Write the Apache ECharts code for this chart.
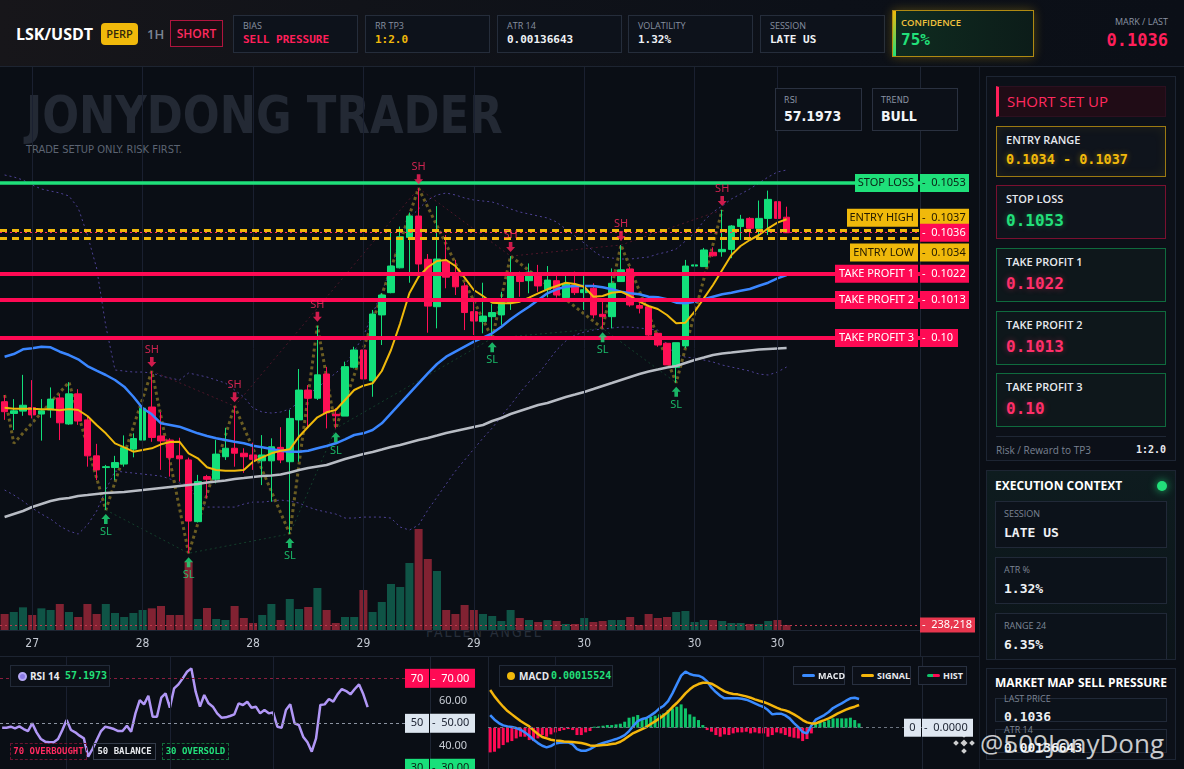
<!DOCTYPE html>
<html><head><meta charset="utf-8">
<script src="https://cdn.jsdelivr.net/npm/echarts@6.0.0/dist/echarts.min.js"></script>
<style>
*{box-sizing:border-box}
html,body{margin:0;padding:0;width:1184px;height:769px;overflow:hidden;background:#0a0e15;font-family:'Open Sans','Noto Sans',sans-serif;color:#fff}
.a{position:absolute}
.mono{font-family:'DejaVu Sans Mono','Liberation Mono',monospace;font-weight:700}
.cond{font-family:'DejaVu Sans Condensed','DejaVu Sans',sans-serif;font-stretch:condensed}
.stat{position:absolute;top:15px;height:38px;width:125px;border:1px solid #252d3b;background:#0d121b}
.stat .l{position:absolute;left:9px;top:4px;font-size:9px;line-height:12px;color:#8790a0}
.stat .v{position:absolute;left:9px;top:17px;font-size:11px;line-height:14px;color:#eef1f5}
.card{position:absolute;left:996px;width:170px;border:1px solid #1d2533;background:#0f141c}
.card .l{position:absolute;left:9px;top:6px;font-size:11px;line-height:14px;font-weight:600;color:#e6e9ee}
.card .v{position:absolute;left:9px;top:25px;font-size:16px;line-height:20px}
.sub{position:absolute;left:995px;width:172px;border:1px solid #212938;background:#0c121a}
.sub .l{position:absolute;left:8px;top:6px;font-size:9px;line-height:12px;color:#7c8595}
.sub .v{position:absolute;left:8px;top:23px;font-size:13px;line-height:16px;color:#eef1f5}
.leg{position:absolute;height:22px;border:1px solid #222a38;background:#0c1018;font-size:10px;line-height:20px;font-weight:700}
.tag{position:absolute;top:743px;height:17px;font-size:9px;line-height:15px;text-align:center}
.mleg{position:absolute;top:666px;height:19px;border:1px solid #283040;background:#0c1018;font-size:9px;line-height:17px;font-weight:700;color:#e8eaee}
.mleg i{position:absolute;left:8px;top:7px;width:13px;height:3px;border-radius:2px}
.mleg span{position:absolute;left:24px}
</style></head><body>

<!-- header -->
<div class="a" style="left:0;top:0;width:1184px;height:67px;background:linear-gradient(90deg,#17161a 0%,#111319 30%,#0c1018 70%,#0b0f17 100%);border-bottom:1px solid #1d2431"></div>
<div class="a" style="left:16px;top:22px;font-size:16px;line-height:24px;font-weight:700;color:#fff">LSK/USDT</div>
<div class="a" style="left:101px;top:23px;width:37px;height:22px;border-radius:4px;background:#f0b90b;color:#33270a;font-size:11px;line-height:22px;text-align:center;font-weight:600">PERP</div>
<div class="a" style="left:147px;top:26px;font-size:13px;line-height:16px;color:#7b8494;font-weight:600">1H</div>
<div class="a" style="left:170px;top:20px;width:53px;height:27px;border:1px solid #b0143e;background:#1a0d13;color:#ff2a5f;font-size:12px;line-height:25px;text-align:center;font-weight:600">SHORT</div>
<div class="stat" style="left:233px"><div class="l">BIAS</div><div class="v mono" style="color:#ff1f5a">SELL PRESSURE</div></div>
<div class="stat" style="left:365px"><div class="l">RR TP3</div><div class="v mono" style="color:#f0b90b">1:2.0</div></div>
<div class="stat" style="left:497px"><div class="l">ATR 14</div><div class="v mono">0.00136643</div></div>
<div class="stat" style="left:628px"><div class="l">VOLATILITY</div><div class="v mono">1.32%</div></div>
<div class="stat" style="left:760px"><div class="l">SESSION</div><div class="v mono">LATE US</div></div>
<div class="a" style="left:892px;top:10px;width:142px;height:47px;border:1px solid #b08a12;background:linear-gradient(90deg,#0f2c20,#0c1c19);box-shadow:0 0 10px rgba(240,185,11,0.3)">
  <div class="a" style="left:0;top:0;width:3px;height:45px;background:linear-gradient(180deg,#f0b90b,#22e07a)"></div>
  <div class="a" style="left:8px;top:6px;font-size:9.5px;line-height:12px;color:#f0c23d;font-weight:600">CONFIDENCE</div>
  <div class="a mono" style="left:8px;top:19px;font-size:16px;line-height:20px;color:#22e07a">75%</div>
</div>
<div class="a" style="right:16px;top:16px;font-size:9px;line-height:12px;color:#8a93a3;text-align:right">MARK / LAST</div>
<div class="a mono" style="right:16px;top:29px;font-size:17px;line-height:22px;color:#ff1f5a">0.1036</div>

<!-- chart background decorations -->
<div class="a cond" style="left:26px;top:89px;font-size:52px;line-height:52px;font-weight:700;color:#232934;white-space:nowrap" id="wm">JONYDONG TRADER</div>
<div class="a cond" style="left:26px;top:143px;font-size:11px;line-height:14px;color:#5c6472;white-space:nowrap">TRADE SETUP ONLY. RISK FIRST.</div>
<div class="a cond" style="left:426px;top:624px;font-size:14px;line-height:16px;color:#272e3a;letter-spacing:2px">FALLEN ANGEL</div>
<div class="a" style="left:0;top:656px;width:980px;height:1px;background:#1d2431"></div>
<div class="a" style="left:488px;top:656px;width:1px;height:113px;background:#1d2431"></div>
<div class="a" style="left:920px;top:630px;width:1px;height:26px;background:#1d2431"></div>
<div class="a" style="left:979px;top:67px;width:1px;height:702px;background:#161c28"></div>

<div id="chart" class="a" style="left:0;top:67px;width:980px;height:702px;z-index:2"></div>

<!-- chart overlays -->
<div class="a" style="left:775px;top:88px;width:87px;height:43px;border:1px solid #2a3140;background:#0c1018;z-index:3">
  <div class="a cond" style="left:8px;top:5px;font-size:9px;line-height:12px;color:#8a93a3">RSI</div>
  <div class="a cond" style="left:8px;top:18px;font-size:14px;line-height:18px;color:#f2f4f7;font-weight:600">57.1973</div>
</div>
<div class="a" style="left:872px;top:88px;width:86px;height:43px;border:1px solid #2a3140;background:#0c1018;z-index:3">
  <div class="a cond" style="left:8px;top:5px;font-size:9px;line-height:12px;color:#8a93a3">TREND</div>
  <div class="a cond" style="left:8px;top:18px;font-size:14px;line-height:18px;color:#f2f4f7;font-weight:600">BULL</div>
</div>
<div class="leg" style="left:10px;top:665px;width:100px;z-index:3">
  <div class="a" style="left:7px;top:6px;width:9px;height:9px;border-radius:50%;background:#8c7ae6;border:2px solid #b6a8f5"></div>
  <div class="a" style="left:19px;top:0;color:#e8eaee">RSI 14</div>
  <div class="a mono" style="left:54px;top:0;color:#22e07a;font-size:10px">57.1973</div>
</div>
<div class="tag mono" style="left:10px;width:77px;border:1px dashed #6a1230;color:#ff2a5f;z-index:3">70 OVERBOUGHT</div>
<div class="tag mono" style="left:93px;width:63px;border:1px solid #343c4a;color:#e8eaee;z-index:3">50 BALANCE</div>
<div class="tag mono" style="left:162px;width:67px;border:1px dashed #136b3a;color:#22e07a;z-index:3">30 OVERSOLD</div>
<div class="leg" style="left:499px;top:665px;width:114px;z-index:3">
  <div class="a" style="left:7px;top:6px;width:8px;height:8px;border-radius:50%;background:#f0b90b"></div>
  <div class="a" style="left:19px;top:0;color:#e8eaee">MACD</div>
  <div class="a mono" style="left:51px;top:0;color:#22e07a;font-size:10px">0.00015524</div>
</div>
<div class="mleg" style="left:793px;width:52px;z-index:3"><i style="background:#3a8bff"></i><span>MACD</span></div>
<div class="mleg" style="left:852px;width:59px;z-index:3"><i style="background:#f5b60c"></i><span>SIGNAL</span></div>
<div class="mleg" style="left:918px;width:49px;z-index:3"><i style="background:linear-gradient(90deg,#0fc46a 50%,#ff0a54 50%)"></i><span>HIST</span></div>

<!-- right panel -->
<div class="a" style="left:986px;top:76px;width:190px;height:385px;border:1px solid #1d2533;background:#0c1018"></div>
<div class="a" style="left:996px;top:86px;width:170px;height:31px;background:#200c16;border:1px solid #2d1020;border-left:3px solid #ff1f5a"></div>
<div class="a" style="left:1007px;top:91px;font-size:15px;line-height:21px;color:#ff2a5f">SHORT SET UP</div>
<div class="card" style="top:126px;height:51px;border-color:#9c7a12;box-shadow:inset 0 0 12px rgba(240,185,11,0.08)"><div class="l">ENTRY RANGE</div><div class="v mono" style="top:23px;font-size:13.5px;line-height:18px;color:#f0b90b;text-shadow:0 0 6px rgba(240,185,11,0.45)">0.1034 - 0.1037</div></div>
<div class="card" style="top:185px;height:54px;border-color:#7a1030"><div class="l">STOP LOSS</div><div class="v mono" style="color:#22e07a;text-shadow:0 0 6px rgba(34,224,122,0.4)">0.1053</div></div>
<div class="card" style="top:248px;height:54px;border-color:#0f6b3e;background:#0e171b"><div class="l">TAKE PROFIT 1</div><div class="v mono" style="color:#ff2f6a;text-shadow:0 0 6px rgba(255,47,106,0.4)">0.1022</div></div>
<div class="card" style="top:311px;height:54px;border-color:#0f6b3e;background:#0e171b"><div class="l">TAKE PROFIT 2</div><div class="v mono" style="color:#ff2f6a;text-shadow:0 0 6px rgba(255,47,106,0.4)">0.1013</div></div>
<div class="card" style="top:373px;height:54px;border-color:#0f6b3e;background:#0e171b"><div class="l">TAKE PROFIT 3</div><div class="v mono" style="color:#ff2f6a;text-shadow:0 0 6px rgba(255,47,106,0.4)">0.10</div></div>
<div class="a" style="left:996px;top:436px;width:170px;height:1px;background:#1f2735"></div>
<div class="a" style="left:996px;top:443px;font-size:10px;line-height:14px;color:#7a8292">Risk / Reward to TP3</div>
<div class="a mono" style="left:1100px;width:66px;top:443px;font-size:10px;line-height:14px;color:#e8eaee;text-align:right">1:2.0</div>

<div class="a" style="left:986px;top:470px;width:190px;height:190px;border:1px solid #1d2533;background:linear-gradient(180deg,#0e1c1f,#0c1419)"></div>
<div class="a" style="left:995px;top:478px;font-size:12px;line-height:16px;font-weight:700;color:#fff">EXECUTION CONTEXT</div>
<div class="a" style="left:1157px;top:481px;width:10px;height:10px;border-radius:50%;background:#22e07a;box-shadow:0 0 8px rgba(34,224,122,0.8)"></div>
<div class="sub" style="top:501px;height:47px"><div class="l">SESSION</div><div class="v mono">LATE US</div></div>
<div class="sub" style="top:557px;height:47px"><div class="l">ATR %</div><div class="v mono">1.32%</div></div>
<div class="sub" style="top:613px;height:46px;border-bottom:none"><div class="l">RANGE 24</div><div class="v mono">6.35%</div></div>

<div class="a" style="left:986px;top:668px;width:190px;height:92px;border:1px solid #1d2533;background:#0c1018"></div>
<div class="a" style="left:995px;top:675px;font-size:12px;line-height:16px;font-weight:700;color:#fff">MARKET MAP</div>
<div class="a" style="left:1067px;width:100px;top:675px;font-size:12px;line-height:16px;font-weight:700;color:#fff;text-align:right">SELL PRESSURE</div>
<div class="sub" style="top:698px;height:24px"><div class="l" style="top:-6px">LAST PRICE</div><div class="v mono" style="top:10px">0.1036</div></div>
<div class="sub" style="top:729px;height:24px"><div class="l" style="top:-6px">ATR 14</div><div class="v mono" style="top:10px">0.00136643</div></div>
<svg class="a" style="left:953px;top:732px" width="22" height="22" viewBox="0 0 22 22"><g fill="rgba(255,255,255,0.8)"><rect x="9" y="1" width="4" height="4" transform="rotate(45 11 3)"/><rect x="9" y="17" width="4" height="4" transform="rotate(45 11 19)"/><rect x="1" y="9" width="4" height="4" transform="rotate(45 3 11)"/><rect x="17" y="9" width="4" height="4" transform="rotate(45 19 11)"/><rect x="8.5" y="8.5" width="5" height="5" transform="rotate(45 11 11)"/></g></svg>
<div class="a" style="left:980px;top:725px;font-size:26px;line-height:36px;color:rgba(255,255,255,0.78);white-space:nowrap">@509JonyDong</div>

<script>
// ---------------- DATA ----------------
// hourly candles: [open, close, low, high]
const candles = [
[0.09782,0.09748,0.09720,0.09805],[0.09742,0.09751,0.09685,0.09791],[0.09750,0.09770,0.09734,0.09874],[0.09762,0.09737,0.09725,0.09856],
[0.09740,0.09751,0.09649,0.09791],[0.09754,0.09791,0.09727,0.09831],[0.09795,0.09710,0.09651,0.09809],[0.09706,0.09809,0.09703,0.09849],
[0.09809,0.09716,0.09703,0.09825],[0.09720,0.09597,0.09560,0.09733],[0.09597,0.09549,0.09514,0.09638],[0.09557,0.09560,0.09412,0.09566],
[0.09557,0.09574,0.09514,0.09597],[0.09569,0.09625,0.09560,0.09667],[0.09620,0.09656,0.09592,0.09674],[0.09651,0.09760,0.09575,0.09782],
[0.09764,0.09660,0.09645,0.09887],[0.09665,0.09648,0.09549,0.09747],[0.09651,0.09591,0.09526,0.09657],[0.09597,0.09587,0.09509,0.09659],
[0.09583,0.09374,0.09264,0.09591],[0.09372,0.09509,0.09369,0.09532],[0.09526,0.09517,0.09452,0.09532],[0.09517,0.09603,0.09503,0.09651],
[0.09594,0.09623,0.09583,0.09693],[0.09623,0.09606,0.09560,0.09767],[0.09606,0.09594,0.09539,0.09623],[0.09600,0.09585,0.09549,0.09642],
[0.09580,0.09600,0.09497,0.09668],[0.09580,0.09628,0.09440,0.09657],[0.09626,0.09583,0.09572,0.09695],[0.09577,0.09725,0.09330,0.09754],
[0.09720,0.09822,0.09577,0.09894],[0.09822,0.09794,0.09691,0.09839],[0.09794,0.09874,0.09788,0.10042],[0.09877,0.09744,0.09691,0.09901],
[0.09739,0.09734,0.09691,0.09760],[0.09733,0.09902,0.09733,0.09919],[0.09900,0.09959,0.09896,0.09970],[0.09959,0.09860,0.09737,0.09965],
[0.09854,0.10082,0.09799,0.10096],[0.10079,0.10147,0.09976,0.10153],[0.10155,0.10246,0.10153,0.10369],[0.10240,0.10346,0.10238,0.10381],
[0.10344,0.10417,0.10189,0.10429],[0.10417,0.10253,0.10215,0.10512],[0.10269,0.10109,0.10018,0.10287],[0.10107,0.10270,0.10033,0.10451],
[0.10261,0.10208,0.10170,0.10352],[0.10218,0.10175,0.10147,0.10267],[0.10178,0.10087,0.10027,0.10189],[0.10090,0.10058,0.10010,0.10136],
[0.10056,0.10075,0.10016,0.10189],[0.10073,0.10087,0.09999,0.10116],[0.10079,0.10121,0.10045,0.10158],[0.10121,0.10213,0.10096,0.10280],
[0.10221,0.10193,0.10141,0.10227],[0.10196,0.10225,0.10153,0.10255],[0.10215,0.10178,0.10158,0.10250],[0.10165,0.10198,0.10139,0.10246],
[0.10196,0.10147,0.10138,0.10215],[0.10138,0.10185,0.10136,0.10221],[0.10181,0.10155,0.10147,0.10227],[0.10155,0.10165,0.10096,0.10223],
[0.10170,0.10079,0.10067,0.10187],[0.10081,0.10073,0.10033,0.10132],[0.10073,0.10187,0.10033,0.10238],[0.10193,0.10233,0.10193,0.10318],
[0.10236,0.10113,0.10107,0.10244],[0.10111,0.10102,0.10084,0.10119],[0.10107,0.10010,0.09993,0.10113],[0.10016,0.09976,0.09970,0.10018],
[0.09982,0.09908,0.09908,0.09984],[0.09900,0.09984,0.09847,0.09984],[0.09973,0.10246,0.09965,0.10267],[0.10246,0.10250,0.10233,0.10267],
[0.10244,0.10301,0.10244,0.10308],[0.10293,0.10281,0.10278,0.10310],[0.10295,0.10303,0.10278,0.10438],[0.10303,0.10383,0.10273,0.10386],
[0.10381,0.10406,0.10335,0.10421],[0.10409,0.10375,0.10338,0.10413],[0.10375,0.10409,0.10341,0.10470],[0.10409,0.10474,0.10352,0.10504],
[0.10466,0.10409,0.10344,0.10495],[0.10413,0.10360,0.10360,0.10449]
];
const volume = [762000,858000,1080000,715000,1032000,953000,1239000,858000,619000,1239000,
762000,1239000,810000,619000,810000,953000,1032000,1143000,715000,715000,
3256000,524000,1048000,524000,476000,1143000,572000,333000,715000,1239000,
476000,1477000,1000000,1096000,2001000,953000,333000,619000,619000,1906000,
858000,1334000,2192000,2049000,3192000,4812000,3383000,2811000,953000,762000,
1191000,953000,762000,667000,429000,953000,572000,476000,381000,476000,
429000,286000,286000,572000,381000,429000,476000,476000,619000,238000,
762000,572000,619000,858000,905000,381000,476000,476000,429000,333000,
333000,286000,286000,429000,476000,238218];
const maFast = [0.097616,0.097582,0.097582,0.097582,0.097561,0.097561,0.097527,0.097572,0.097538,0.097333,
0.097025,0.096741,0.096399,0.096262,0.096112,0.096170,0.096228,0.096365,0.096443,0.096454,
0.096057,0.095886,0.095578,0.095486,0.095462,0.095462,0.095486,0.095770,0.095920,0.096057,
0.096146,0.096194,0.096625,0.096967,0.097288,0.097459,0.097538,0.097880,0.098222,0.098369,
0.098451,0.098871,0.099590,0.100502,0.101528,0.102096,0.102418,0.102633,0.102667,0.102462,
0.102062,0.101641,0.101436,0.101207,0.101186,0.101186,0.101241,0.101378,0.101528,0.101665,
0.101778,0.101891,0.101846,0.101754,0.101412,0.101436,0.101549,0.101583,0.101436,0.101241,
0.101094,0.100991,0.100786,0.100502,0.100523,0.100899,0.101357,0.101812,0.102325,0.102838,
0.103146,0.103351,0.103522,0.103751,0.103943,0.104059];
const maMid = [0.099360,0.099452,0.099613,0.099647,0.099702,0.099682,0.099531,0.099418,0.099271,0.099042,
0.098882,0.098735,0.098564,0.098334,0.097992,0.097596,0.097391,0.097083,0.097025,0.096967,
0.096854,0.096741,0.096649,0.096570,0.096512,0.096454,0.096399,0.096317,0.096262,0.096204,
0.096146,0.096112,0.096112,0.096146,0.096228,0.096307,0.096399,0.096536,0.096683,0.096741,
0.096854,0.097083,0.097425,0.097767,0.098109,0.098451,0.098793,0.099111,0.099360,0.099531,
0.099702,0.099873,0.100010,0.100161,0.100386,0.100640,0.100865,0.101071,0.101300,0.101528,
0.101665,0.101754,0.101778,0.101778,0.101778,0.101734,0.101665,0.101583,0.101528,0.101494,
0.101412,0.101392,0.101323,0.101207,0.101186,0.101241,0.101323,0.101412,0.101494,0.101549,
0.101617,0.101675,0.101788,0.101891,0.102041,0.102154];
const maSlow = [0.093879,0.093982,0.094084,0.094221,0.094324,0.094426,0.094495,0.094529,0.094597,0.094631,
0.094666,0.094700,0.094717,0.094734,0.094768,0.094802,0.094837,0.094871,0.094905,0.094939,
0.094973,0.095007,0.095059,0.095093,0.095127,0.095178,0.095212,0.095247,0.095281,0.095298,
0.095332,0.095400,0.095486,0.095554,0.095606,0.095657,0.095760,0.095862,0.095948,0.096033,
0.096102,0.096187,0.096273,0.096341,0.096427,0.096512,0.096581,0.096666,0.096752,0.096820,
0.096888,0.096957,0.097025,0.097162,0.097264,0.097401,0.097504,0.097606,0.097709,0.097777,
0.097880,0.097983,0.098068,0.098154,0.098256,0.098359,0.098461,0.098564,0.098667,0.098769,
0.098855,0.098923,0.098992,0.099043,0.099145,0.099248,0.099333,0.099419,0.099470,0.099504,
0.099539,0.099573,0.099607,0.099624,0.099641,0.099658];
const bandUpper = [0.105574,0.105505,0.105403,0.105232,0.105095,0.105026,0.104958,0.104855,0.104445,0.103522,
0.102393,0.100409,0.098905,0.098870,0.098836,0.098836,0.098802,0.098699,0.098631,0.098563,
0.098802,0.098734,0.098665,0.098563,0.098460,0.098221,0.097981,0.097605,0.097468,0.097434,
0.097468,0.097571,0.097810,0.098084,0.098289,0.098563,0.098802,0.099076,0.099554,0.100067,
0.100820,0.101572,0.102393,0.103351,0.104103,0.104411,0.104719,0.104890,0.104958,0.104890,
0.104787,0.104719,0.104684,0.104650,0.104548,0.104411,0.104308,0.104240,0.104171,0.104103,
0.103966,0.103727,0.103487,0.103248,0.102974,0.102769,0.102735,0.102701,0.102701,0.102735,
0.102769,0.102872,0.102940,0.103043,0.103316,0.103590,0.104000,0.104308,0.104513,0.104753,
0.104924,0.105095,0.105300,0.105505,0.105676,0.105745];
const bandLower = [0.094801,0.094630,0.094424,0.094185,0.093980,0.093809,0.093569,0.093398,0.093296,0.093604,
0.094082,0.094801,0.095450,0.095416,0.095382,0.095348,0.095314,0.095279,0.095177,0.095040,
0.094972,0.094459,0.094219,0.094219,0.094219,0.094219,0.094322,0.094390,0.094390,0.094424,
0.094459,0.094424,0.094356,0.094219,0.094117,0.094048,0.093980,0.093843,0.093843,0.093877,
0.093877,0.093877,0.093843,0.093535,0.093433,0.093604,0.094117,0.094561,0.095006,0.095450,
0.095827,0.096203,0.096579,0.096921,0.097331,0.097708,0.098118,0.098494,0.098768,0.099178,
0.099589,0.099896,0.100102,0.100204,0.100273,0.100307,0.100341,0.100375,0.100375,0.100341,
0.100307,0.100273,0.099759,0.099418,0.099349,0.099315,0.099247,0.099178,0.099076,0.099007,
0.098939,0.098870,0.098768,0.098734,0.098836,0.099007];
const zigzagIdx   = [0,1,7,11,16,20,25,31,34,36,45,53,55,65,67,73,78];
const zigzagPrice = [0.09805,0.09640,0.09849,0.09412,0.09887,0.09264,0.09767,0.09330,0.10042,0.09691,0.10512,0.09999,0.10280,0.10033,0.10318,0.09847,0.10438];
const swingHighIdx = [16,25,34,45,55,67,78];
const swingLowIdx  = [11,20,31,36,53,65,73];
const shLinkIdx = [16,25,45,55,67,78];
const slLinkIdx = [11,20,31,36,53,65,73];
const levelNames  = ['STOP LOSS','ENTRY HIGH','','ENTRY LOW','TAKE PROFIT 1','TAKE PROFIT 2','TAKE PROFIT 3'];
const levelPrices = [0.1053,0.1037,0.1036,0.1034,0.1022,0.1013,0.10];
const levelLabels = ['0.1053','0.1037','0.1036','0.1034','0.1022','0.1013','0.10'];
const rsi = [48.07,48.07,48.52,47.78,48.67,47.48,46.59,50.00,46.00,43.04,
41.85,41.56,41.56,43.04,47.04,51.48,47.04,46.00,44.52,43.33,
35.19,38.59,42.59,46.59,48.52,48.07,47.48,46.59,46.59,48.96,
46.30,54.44,60.37,58.44,62.30,52.96,52.96,61.41,63.33,56.96,
65.56,67.33,70.00,72.96,74.44,64.07,57.41,62.59,58.89,57.41,
54.44,52.52,52.67,53.26,54.00,58.89,58.15,59.63,56.96,57.41,
54.44,55.93,54.44,54.89,48.52,48.07,55.93,58.44,50.00,49.26,
44.07,41.56,37.41,43.33,58.15,58.44,60.81,59.63,62.89,65.26,
64.37,62.89,65.26,67.33,62.89,57.1973];
const rsiLevels = [70,60,50,40,30];
// MACD values in millionths (x 1e-6)
const macdMicro = [68.5,43.2,25.2,12.6,7.2,3.6,-1.8,-10.8,-25.2,-43.2,
-64.9,-82.9,-97.3,-106.3,-99.1,-84.7,-81.1,-79.3,-79.3,-90.1,
-115.3,-124.3,-124.3,-115.3,-102.7,-90.1,-82.9,-75.7,-68.5,-61.3,
-52.3,-39.6,-18.0,9.0,36.0,46.8,52.3,66.7,82.9,104.5,
118.9,144.1,185.6,234.2,281.1,302.7,290.1,282.9,281.1,270.3,
250.5,216.2,192.8,173.0,158.6,158.6,158.6,158.6,156.8,151.4,
142.3,131.5,120.7,111.7,95.5,72.1,75.7,75.7,66.7,50.5,
25.2,3.6,-23.4,-30.6,10.8,43.2,55.9,68.5,84.7,106.3,
118.9,131.5,145.9,158.6,162.2,155.24];
const signalMicro = [203.6,169.4,140.5,113.5,90.1,72.1,54.1,36.0,21.6,7.2,
-14.4,-34.2,-50.5,-57.7,-64.9,-68.5,-70.3,-73.9,-75.7,-77.5,
-79.3,-82.9,-88.3,-95.5,-97.3,-95.5,-93.7,-91.9,-88.3,-84.7,
-75.7,-61.3,-45.0,-28.8,-18.0,-7.2,3.6,19.8,34.2,50.5,
66.7,86.5,111.7,133.3,158.6,185.6,207.2,225.2,236.0,243.2,
243.2,237.8,225.2,210.8,196.4,187.4,182.0,180.2,174.8,169.4,
162.2,153.2,145.9,138.7,129.7,118.9,108.1,99.1,93.7,84.7,
72.1,57.7,41.4,28.8,23.4,23.4,32.4,41.4,50.5,63.1,
75.7,86.5,97.3,106.3,113.5,122.5];
const histMicro = [-133.3,-129.7,-111.7,-93.7,-79.3,-72.1,-57.7,-48.6,-48.6,-66.7,
-72.1,-57.7,-39.6,-48.6,-36.0,-25.2,-18.0,-12.6,-7.2,-12.6,
-39.6,-39.6,-25.2,-18.0,5.4,7.2,10.8,14.4,14.4,18.0,
21.6,32.4,54.1,59.5,68.5,50.5,50.5,59.5,64.9,72.1,
77.5,95.5,104.5,113.5,126.1,104.5,72.1,59.5,41.4,14.4,
-12.6,-21.6,-39.6,-48.6,-36.0,-39.6,-30.6,-25.2,-25.2,-21.6,
-30.6,-25.2,-30.6,-30.6,-48.6,-39.6,-25.2,-30.6,-39.6,-48.6,
-54.1,-57.7,-72.1,-61.3,-30.6,23.4,32.4,32.4,41.4,50.5,
50.5,50.5,50.5,54.1,41.4,23.4];
const xTickIndex  = [3,15,27,39,51,63,75,84];
const xTickLabels = ['27','28','28','29','29','30','30','30'];
const subGridIndex = [15,39,63];
const SLOTS = 100; // 86 candles + empty space to the right

// ---------------- BUILD ----------------
const categories = [];
for (let i = 0; i < SLOTS; i++) categories.push(String(i));
const tickLabelAt = {};
xTickIndex.forEach((k, j) => tickLabelAt[k] = xTickLabels[j]);
const MICRO = 1e-6;
const UP = '#12e07a', DN = '#ff0f55';
const VOL_UP = '#0f5446', VOL_DN = '#812232';
const GRIDC = '#1a2030';
const TAGFONT = '11px "Noto Sans","Open Sans",sans-serif';
const levelStyle = [
  {line:{color:'#1fe07a',width:3.5,type:'solid'}, bg:'#1fe07a', fg:'#0b2015', nameX:855, valW:49, dy:0},
  {line:{color:'#f0b90b',width:3,type:[7,5]}, bg:'#f0b90b', fg:'#231a00', nameX:847, valW:49, dy:-12},
  {line:{color:'#ff2a6a',width:1,type:[2,3]}, bg:'#ff0a54', fg:'#ffffff', nameX:null, valW:49, dy:0},
  {line:{color:'#f0b90b',width:3,type:[7,5]}, bg:'#f0b90b', fg:'#231a00', nameX:850, valW:49, dy:14},
  {line:{color:'#ff0a54',width:4,type:'solid'}, bg:'#ff0a54', fg:'#ffffff', nameX:835, valW:49, dy:0},
  {line:{color:'#ff0a54',width:4,type:'solid'}, bg:'#ff0a54', fg:'#ffffff', nameX:835, valW:49, dy:0},
  {line:{color:'#ff0a54',width:4,type:'solid'}, bg:'#ff0a54', fg:'#ffffff', nameX:835, valW:38, dy:0}
];
const ARROW_DN = 'path://M3,0L7,0L7,6L10,6L5,12L0,6L3,6Z';
const ARROW_UP = 'path://M5,0L10,6L7,6L7,12L3,12L3,6L0,6Z';

const chart = echarts.init(document.getElementById('chart'));
const vLines = (idx) => ({silent:true, symbol:'none', label:{show:false}, lineStyle:{color:GRIDC,width:1,type:'solid'},
  data: idx.map(i => ({xAxis: categories[i]}))});

const option = {
  animation:false,
  backgroundColor:'transparent',
  grid:[
    {left:0, top:0, width:920, height:563},
    {left:0, top:453, width:920, height:110},
    {left:0, top:590, width:430, height:112},
    {left:488, top:590, width:434, height:112}
  ],
  xAxis:[
    {type:'category', gridIndex:0, data:categories, boundaryGap:true,
     axisLine:{show:true, lineStyle:{color:'#1e2533'}}, axisTick:{show:false},
     axisLabel:{show:true, interval:(i)=>tickLabelAt[i]!==undefined, formatter:(v)=>tickLabelAt[Number(v)]||'',
       color:'#c5cad3', fontSize:12, margin:8, fontFamily:'"DejaVu Sans Condensed","DejaVu Sans",sans-serif'},
     splitLine:{show:false}},
    {type:'category', gridIndex:1, data:categories, show:false},
    {type:'category', gridIndex:2, data:categories, show:false},
    {type:'category', gridIndex:3, data:categories, show:false}
  ],
  yAxis:[
    {type:'value', gridIndex:0, min:0.0900153, max:0.1092665, position:'right',
     axisLine:{show:true, lineStyle:{color:'#1e2533'}}, axisTick:{show:false}, axisLabel:{show:false}, splitLine:{show:false}},
    {type:'value', gridIndex:1, min:0, max:5240000, show:false},
    {type:'value', gridIndex:2, min:29.7, max:79.5, position:'right',
     axisLine:{show:true, lineStyle:{color:'#1e2533'}}, axisTick:{show:false}, axisLabel:{show:false}, splitLine:{show:false}},
    {type:'value', gridIndex:3, min:-0.000223, max:0.000382, position:'right',
     axisLine:{show:true, lineStyle:{color:'#1e2533'}}, axisTick:{show:false}, axisLabel:{show:false}, splitLine:{show:false}}
  ],
  series:[
    {type:'line', xAxisIndex:0, yAxisIndex:0, data:[], z:0, silent:true, markLine:vLines(xTickIndex)},
    {type:'bar', xAxisIndex:1, yAxisIndex:1, barWidth:8, z:1, silent:true,
     data: volume.map((v,i)=>({value:v, itemStyle:{color: candles[i][1] >= candles[i][0] ? VOL_UP : VOL_DN}})),
     markLine:{silent:true, symbol:'none', precision:0, label:{show:false}, lineStyle:{color:'#c23a4e', width:1, type:[2,3]},
       data:[{yAxis: volume[volume.length-1]}]}},
    {type:'line', xAxisIndex:0, yAxisIndex:0, data:bandUpper, symbol:'none', z:2, silent:true,
     lineStyle:{color:'#4e4296', width:1, type:[2,3]}},
    {type:'line', xAxisIndex:0, yAxisIndex:0, data:bandLower, symbol:'none', z:2, silent:true,
     lineStyle:{color:'#4e4296', width:1, type:[2,3]}},
    {type:'line', xAxisIndex:0, yAxisIndex:0, data:shLinkIdx.map(i=>[categories[i], candles[i][3]]), symbol:'none', z:2, silent:true,
     lineStyle:{color:'#4d1729', width:1, type:[2,3]}},
    {type:'line', xAxisIndex:0, yAxisIndex:0, data:slLinkIdx.map(i=>[categories[i], candles[i][2]]), symbol:'none', z:2, silent:true,
     lineStyle:{color:'#143f2c', width:1, type:[2,3]}},
    {type:'line', xAxisIndex:0, yAxisIndex:0, data:zigzagIdx.map((i,k)=>[categories[i], zigzagPrice[k]]), symbol:'none', z:2, silent:true,
     lineStyle:{color:'#6a5c22', width:3, type:[3,3]}},
    {type:'line', xAxisIndex:0, yAxisIndex:0, data:[], z:2, silent:true,
     markLine:{silent:true, symbol:'none', precision:6, label:{show:false},
       data: levelPrices.map((p,k)=>({yAxis:p, lineStyle:levelStyle[k].line}))}},
    {type:'candlestick', xAxisIndex:0, yAxisIndex:0, data:candles, barWidth:7, z:3, silent:true,
     itemStyle:{color:UP, color0:DN, borderColor:UP, borderColor0:DN, borderWidth:1}},
    {type:'line', xAxisIndex:0, yAxisIndex:0, data:maSlow, symbol:'none', z:4, silent:true, lineStyle:{color:'#b8bcc4', width:2.5}},
    {type:'line', xAxisIndex:0, yAxisIndex:0, data:maMid, symbol:'none', z:4, silent:true, lineStyle:{color:'#3a86ff', width:2.5}},
    {type:'line', xAxisIndex:0, yAxisIndex:0, data:maFast, symbol:'none', z:4, silent:true, lineStyle:{color:'#f0b90b', width:2}},
    {type:'scatter', xAxisIndex:0, yAxisIndex:0, z:5, silent:true, symbol:ARROW_DN, symbolSize:[9,10], symbolOffset:[0,-9],
     itemStyle:{color:'#ff1f5a'}, data: swingHighIdx.map(i=>[categories[i], candles[i][3]])},
    {type:'scatter', xAxisIndex:0, yAxisIndex:0, z:5, silent:true, symbol:'rect', symbolSize:1, itemStyle:{color:'rgba(0,0,0,0)'},
     label:{show:true, position:'inside', offset:[0,-21], formatter:'SH', color:'#ff2a5f', fontSize:11, fontFamily:'"Noto Sans",sans-serif'},
     data: swingHighIdx.map(i=>[categories[i], candles[i][3]])},
    {type:'scatter', xAxisIndex:0, yAxisIndex:0, z:5, silent:true, symbol:ARROW_UP, symbolSize:[9,10], symbolOffset:[0,9],
     itemStyle:{color:'#1ee07a'}, data: swingLowIdx.map(i=>[categories[i], candles[i][2]])},
    {type:'scatter', xAxisIndex:0, yAxisIndex:0, z:5, silent:true, symbol:'rect', symbolSize:1, itemStyle:{color:'rgba(0,0,0,0)'},
     label:{show:true, position:'inside', offset:[0,22], formatter:'SL', color:'#1ee07a', fontSize:11, fontFamily:'"Noto Sans",sans-serif'},
     data: swingLowIdx.map(i=>[categories[i], candles[i][2]])},
    // RSI
    {type:'line', xAxisIndex:2, yAxisIndex:2, data:[], z:0, silent:true, markLine:vLines(subGridIndex)},
    {type:'line', xAxisIndex:2, yAxisIndex:2, data:[], z:1, silent:true,
     markLine:{silent:true, symbol:'none', precision:2, label:{show:false},
       data:[{yAxis:rsiLevels[0], lineStyle:{color:'#8a1d3e', width:1, type:[3,3]}},
             {yAxis:rsiLevels[2], lineStyle:{color:'#8b93a1', width:1, type:[3,3]}}]}},
    {type:'line', xAxisIndex:2, yAxisIndex:2, data:rsi, symbol:'none', z:3, silent:true, lineStyle:{color:'#b197f6', width:2.5}},
    // MACD
    {type:'line', xAxisIndex:3, yAxisIndex:3, data:[], z:0, silent:true, markLine:vLines(subGridIndex)},
    {type:'bar', xAxisIndex:3, yAxisIndex:3, barWidth:3, z:2, silent:true,
     data: histMicro.map(v=>({value:v*MICRO, itemStyle:{color: v>=0 ? '#0fc46a' : '#ff0a54'}})),
     markLine:{silent:true, symbol:'none', label:{show:false}, lineStyle:{color:'#6c7480', width:1, type:[3,3]}, data:[{yAxis:0}]}},
    {type:'line', xAxisIndex:3, yAxisIndex:3, data:macdMicro.map(v=>v*MICRO), symbol:'none', z:3, silent:true, lineStyle:{color:'#3a8bff', width:2.5}},
    {type:'line', xAxisIndex:3, yAxisIndex:3, data:signalMicro.map(v=>v*MICRO), symbol:'none', z:3, silent:true, lineStyle:{color:'#f5b60c', width:2.5}}
  ]
};
chart.setOption(option);

// axis tags placed via the library's own scales
function box(g, x, y, w, h, bg, text, fg, align, tx){
  g.push({type:'rect', z:100, shape:{x:x, y:y-h/2, width:w, height:h}, style:{fill:bg}});
  g.push({type:'text', z:101, x:tx, y:y, style:{text:text, fill:fg, font:TAGFONT, align:align, verticalAlign:'middle'}});
}
const g = [];
levelPrices.forEach((p,k)=>{
  const st = levelStyle[k];
  const y = chart.convertToPixel({yAxisIndex:0}, p) + st.dy;
  if (levelNames[k]) box(g, st.nameX, y, 918-st.nameX, 18, st.bg, levelNames[k], st.fg, 'right', 914);
  box(g, 920, y, st.valW, 18, st.bg, '-  '+levelLabels[k], st.fg, 'left', 922);
});
{
  const vy = chart.convertToPixel({yAxisIndex:1}, volume[volume.length-1]);
  box(g, 920, vy, 55, 15, '#e8364e', '-  ' + volume[volume.length-1].toLocaleString('en-US'), '#ffffff', 'left', 922);
}
const rsiTagStyle = {70:{bg:'#ff0a54', fg:'#ffffff'}, 50:{bg:'#dde6f0', fg:'#1a2030'}, 30:{bg:'#18e07a', fg:'#0b2015'}};
rsiLevels.forEach(lv=>{
  const y = chart.convertToPixel({yAxisIndex:2}, lv);
  const st = rsiTagStyle[lv];
  if (st) {
    box(g, 405, y, 24, 19, st.bg, String(lv), st.fg, 'center', 417);
    box(g, 430, y, 45, 19, st.bg, '-  ' + lv.toFixed(2), st.fg, 'left', 432);
  } else {
    g.push({type:'text', z:101, x:439, y:y, style:{text:lv.toFixed(2), fill:'#c9ced6', font:TAGFONT, align:'left', verticalAlign:'middle'}});
  }
});
{
  const y0 = chart.convertToPixel({yAxisIndex:3}, 0);
  box(g, 904, y0, 17, 18, '#dfe7f1', '0', '#1b2230', 'center', 912.5);
  box(g, 922, y0, 51, 18, '#dfe7f1', '-  0.0000', '#1b2230', 'left', 924);
}
chart.setOption({graphic: g});

// fit the watermark title width
const wm = document.getElementById('wm');
const w = wm.offsetWidth;
if (w > 0) { wm.style.transformOrigin = '0 0'; wm.style.transform = 'scaleX(' + (477 / w) + ')'; }
</script>
</body></html>
